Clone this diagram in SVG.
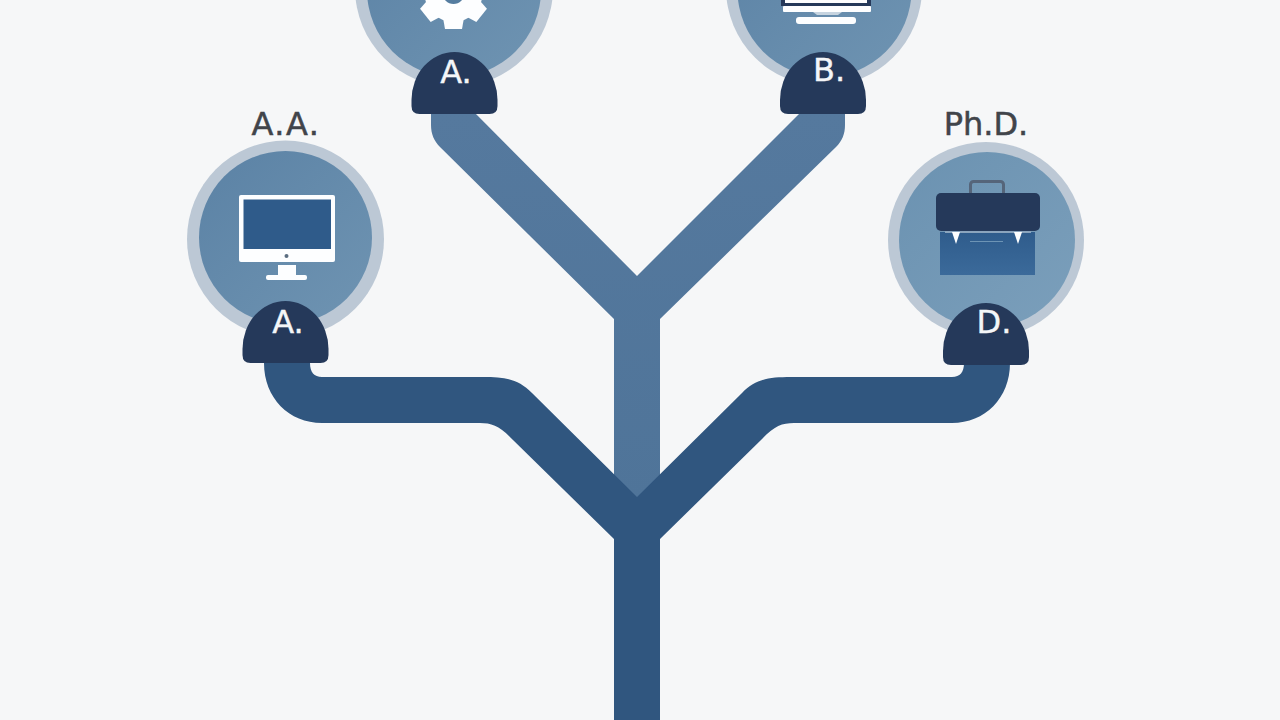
<svg xmlns="http://www.w3.org/2000/svg" width="1280" height="720" viewBox="0 0 1280 720">
<defs>
<linearGradient id="disc" x1="0" y1="0" x2="1" y2="1"><stop offset="0" stop-color="#5b82a5"/><stop offset="1" stop-color="#6f94b2"/></linearGradient>
<linearGradient id="disc2" x1="0" y1="0" x2="1" y2="1"><stop offset="0" stop-color="#6b92b1"/><stop offset="1" stop-color="#7b9fbb"/></linearGradient>
<linearGradient id="upper" x1="0" y1="0" x2="0" y2="1"><stop offset="0" stop-color="#55799e"/><stop offset="1" stop-color="#4f7499"/></linearGradient>
<linearGradient id="bag" x1="0" y1="0" x2="0" y2="1"><stop offset="0" stop-color="#2f5c8c"/><stop offset="1" stop-color="#3b6a9a"/></linearGradient>
<path id="cap" d="M-43 48A43 48 0 0 1 43 48V54Q43 62 35 62H-35Q-43 62-43 54Z"/>
</defs>
<style>
.halo{fill:#bcc8d5}
.disc{fill:url(#disc)}
.cap{fill:#25395a}
.w{fill:#fdfeff}
.capt{font-family:"DejaVu Sans",sans-serif;font-size:32px;fill:#f4f6f8;stroke:#f4f6f8;stroke-width:.4px;text-anchor:middle}
.lab{font-family:"DejaVu Sans",sans-serif;font-size:32px;fill:#41444a;stroke:#41444a;stroke-width:.5px;text-anchor:middle}
</style>
<rect width="1280" height="720" fill="#f6f7f8"/>
<g id="connectors">
<path id="upper-branches" fill="url(#upper)" d="M431 113H475L637 276L800 113H845V125C845 134 842 141 836 147L660 319V500H614V319L440 147C434 141 431 134 431 125Z"/>
<path id="lower-branches" fill="#30567f" d="M264 363H310C310 372 314 377 322 377H483C505 377 518 379 532 393L637 497L742 393C756 379 769 377 791 377H952C960 377 964 372 964 363H1010C1010 398 985 423 952 423H794C782 423 774 426 761 440L660 539V720H614V539L513 440C500 426 492 423 480 423H322C289 423 264 398 264 363Z"/>
</g>
<g id="node-aa">
<circle class="halo" cx="285.500" cy="239" r="98.500"/>
<circle class="disc" cx="285.500" cy="237.500" r="86.500"/>
<rect class="w" x="239" y="195" width="96" height="67" rx="2"/>
<rect x="243.500" y="199.500" width="87.500" height="49.500" fill="#2f5b8a"/>
<circle cx="286.500" cy="256" r="2" fill="#5a6d80"/>
<rect class="w" x="278" y="265" width="18" height="11"/>
<rect class="w" x="266" y="275" width="41" height="5" rx="2"/>
<use href="#cap" class="cap" x="285.500" y="301"/>
<text class="capt" x="288" y="333">A.</text>
<text class="lab" x="286" y="135" letter-spacing="1.500">A.A.</text>
</g>
<g id="node-a">
<circle class="halo" cx="454" cy="-12" r="99"/>
<circle class="disc" cx="454" cy="-10" r="87"/>
<g transform="translate(453.500 -7)">
<circle class="w" r="29"/>
<g class="w"><path d="M-11 22L-8.500 36H8.500L11 22Z"/><path d="M-11 22L-8.500 36H8.500L11 22Z" transform="rotate(51.400)"/><path d="M-11 22L-8.500 36H8.500L11 22Z" transform="rotate(-51.400)"/><path d="M-11 22L-8.500 36H8.500L11 22Z" transform="rotate(102.800)"/><path d="M-11 22L-8.500 36H8.500L11 22Z" transform="rotate(-102.800)"/></g>
<circle r="11" fill="#557da0"/>
</g>
<use href="#cap" class="cap" x="454.500" y="52"/>
<text class="capt" x="456" y="83">A.</text>
</g>
<g id="node-b">
<circle class="halo" cx="824" cy="-12" r="98"/>
<circle class="disc" cx="824.500" cy="-10" r="87"/>
<rect x="781" y="-40" width="90" height="46" fill="#25395a"/>
<rect class="w" x="785" y="-40" width="82" height="43"/>
<rect class="w" x="783" y="6" width="88" height="6" rx="1"/>
<rect class="w" x="796" y="17" width="60" height="7" rx="3"/>
<path d="M813 12H842L838 15H817Z" fill="#c6d4e0"/>
<use href="#cap" class="cap" x="823" y="52"/>
<text class="capt" x="829" y="81">B.</text>
</g>
<g id="node-phd">
<circle class="halo" cx="986" cy="240" r="98"/>
<circle cx="987" cy="240" r="88" fill="url(#disc2)"/>
<rect x="940" y="232" width="95" height="43" fill="url(#bag)"/>
<rect x="970.500" y="181.500" width="33" height="20" rx="3" fill="none" stroke="#55657a" stroke-width="3"/>
<rect x="936" y="193" width="104" height="38" rx="5" fill="#25395a"/>
<rect x="945" y="231" width="86" height="2" fill="#8aa4bd"/>
<rect x="970" y="241" width="33" height="1" fill="#6d94b5"/>
<path class="w" d="M952 232H960L956 244ZM1014 232H1022L1018 244Z"/>
<use href="#cap" class="cap" x="986" y="303"/>
<text class="capt" x="994" y="333">D.</text>
<text class="lab" x="986" y="135">Ph.D.</text>
</g>
</svg>
